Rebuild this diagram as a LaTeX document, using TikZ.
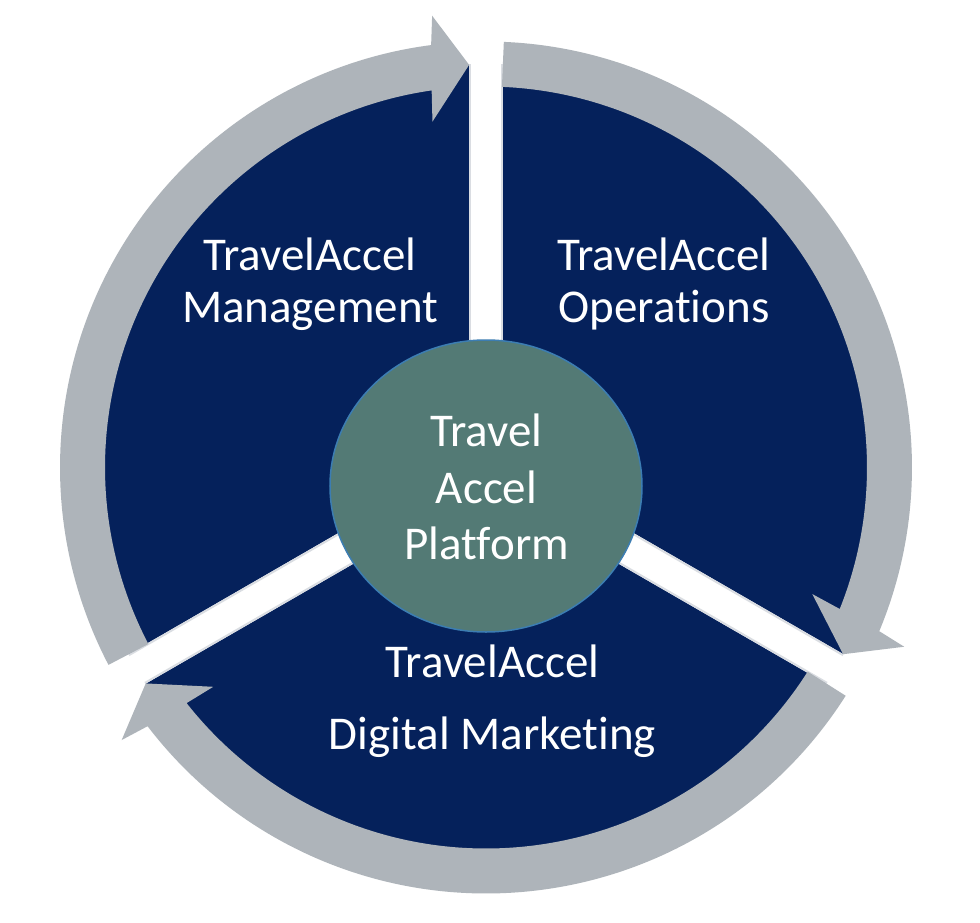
\documentclass[tikz,border=0pt]{standalone}
\usepackage{fontspec}
\setmainfont{Carlito}[Ligatures={NoCommon,NoDiscretionary}]
\usetikzlibrary{shapes.geometric}
\definecolor{navy}{HTML}{05215B}
\definecolor{ringgray}{HTML}{AEB4BA}
\definecolor{teal}{HTML}{537A75}
\definecolor{rimblue}{HTML}{3C7DB2}
\definecolor{gapedge}{HTML}{DADDE2}
\newcommand\ringarrow[2]{% #1 start angle, #2 tip angle
  \pgfmathsetmacro\raEa{#2+5}%
  \pgfmathsetmacro\raEb{#2+5.8}%
  \fill[ringgray] (#1:426) arc[start angle=#1, end angle=\raEa, radius=426]
    -- ({#2+4.4}:455) -- (#2:403) -- ({#2+6.4}:350) -- (\raEb:381)
    arc[start angle=\raEb, end angle=#1, radius=381] -- cycle;}
\begin{document}
\begin{tikzpicture}[x=1pt,y=1pt,
  lbl/.style={text=white, font=\fontsize{47}{54}\selectfont, inner sep=0pt, anchor=base}]
\useasboundingbox (-486,-454.5) rectangle (494,467.5);
\fill[white] (-486,-454.5) rectangle (494,467.5);
% navy disc
\fill[navy] (0,0) circle[radius=403];
% white gaps
\foreach \g in {90,-30,210}{
  \fill[white, rotate=\g] (0,-17) rectangle (445,17);
  \draw[gapedge, line width=2pt, rotate=\g] (0,16) -- (403,16) (0,-16) -- (403,-16);
}
% circular arrows
\ringarrow{207.6}{92.4}
\ringarrow{87.6}{-27.6}
\ringarrow{327.6}{212.4}
% centre
\node[ellipse, fill=teal, draw=rimblue, line width=1.5pt, minimum width=312, minimum height=292, inner sep=0pt] (platform) at (0,-18.5) {};
\node[lbl] (p1) at (0.5,21.5) {Travel};
\node[lbl] (p2) at (0.5,-35.5) {Accel};
\node[lbl] (p3) at (0.5,-91.5) {Platform};
\node[lbl] (m1) at (-176,197.5) {TravelAccel};
\node[lbl] (m2) at (-176,145.5) {Management};
\node[lbl] (o1) at (178,197.5) {TravelAccel};
\node[lbl] (o2) at (178,145.5) {Operations};
\node[lbl] (d1) at (6.5,-209.5) {TravelAccel};
\node[lbl] (d2) at (6.5,-281.5) {Digital Marketing};
\end{tikzpicture}
\end{document}
